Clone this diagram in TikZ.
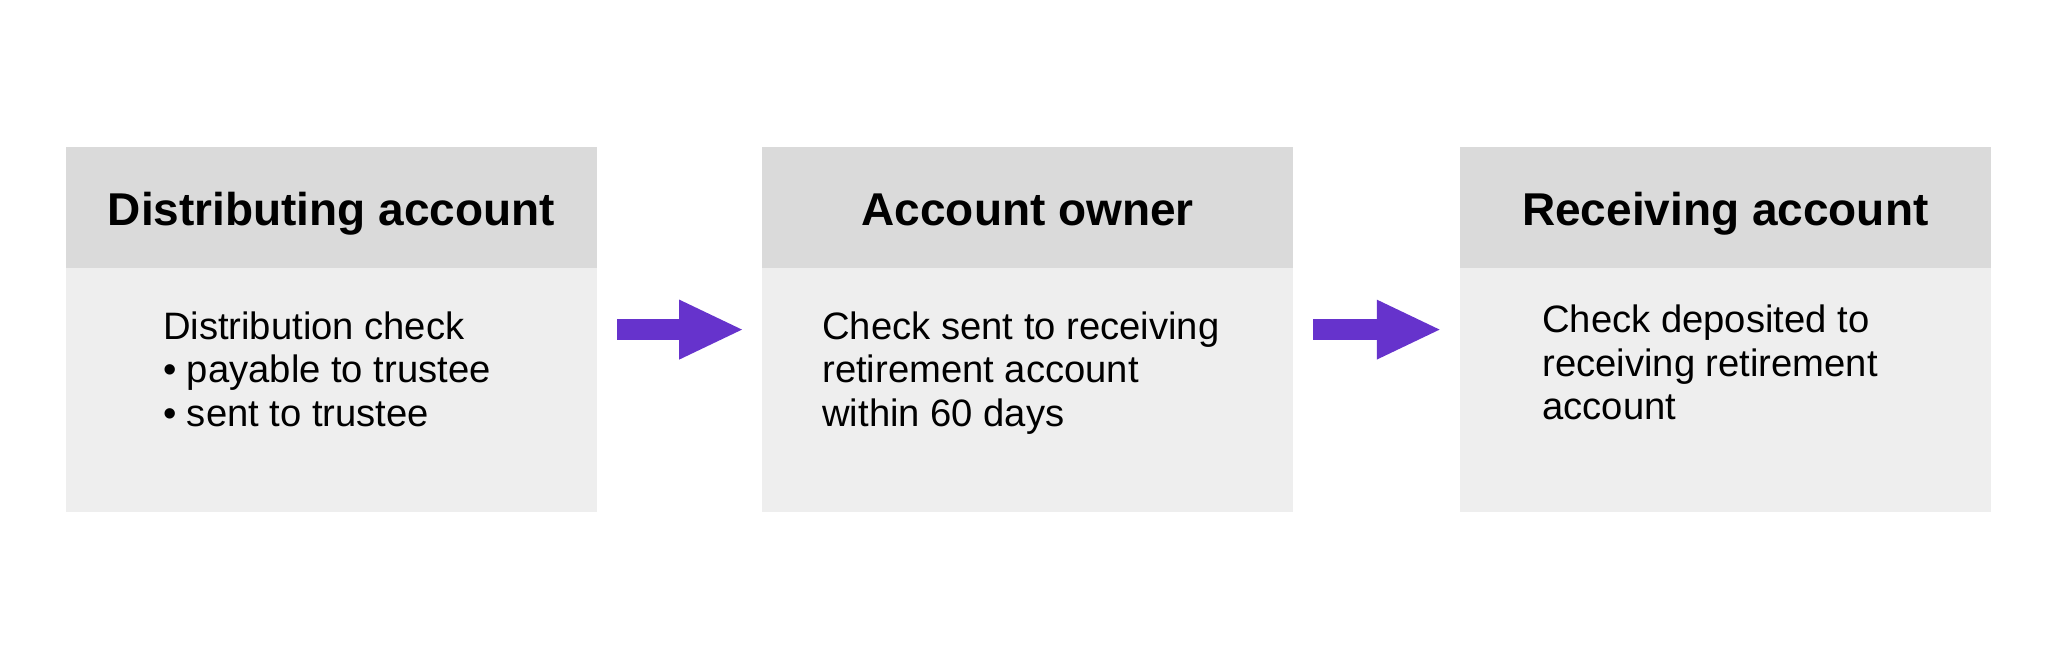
\documentclass[tikz,border=0pt]{standalone}
\usepackage{fontspec}
\setmainfont{Liberation Sans}
\usetikzlibrary{positioning}
\usetikzlibrary{arrows.meta}

\definecolor{hdrgray}{HTML}{DADADA}
\definecolor{bodygray}{HTML}{EEEEEE}
\definecolor{flowpurple}{HTML}{6633CC}

\begin{document}
\begin{tikzpicture}[x=1pt,y=1pt,
    stage/.style={fill=bodygray,minimum width=265.5pt,minimum height=182.2pt,inner sep=0pt,anchor=north west},
    header/.style={fill=hdrgray,minimum width=265.5pt,minimum height=60.3pt,inner sep=0pt,text height=20pt,text depth=2.2pt,anchor=north,font=\fontsize{23}{27}\selectfont\bfseries},
    detail/.style={anchor=north west,align=left,inner sep=0pt,font=\fontsize{19.1}{21.7}\selectfont},
    flow/.style={draw=flowpurple,line width=10.5pt,-{Triangle[length=31.4pt,width=30pt,line width=0pt]},shorten <=9.9pt,shorten >=9.9pt}]
    \useasboundingbox (0,0) rectangle (1028,-329.5);

    \node[stage] (distributing) at (32.8,-73.5) {};
    \node[stage] (owner) at (380.9,-73.5) {};
    \node[stage] (receiving) at (729.7,-73.5) {};

    \node[header] (distributinghdr) at (distributing.north) {Distributing account};
    \node[header] (ownerhdr) at (owner.north) {Account owner};
    \node[header] (receivinghdr) at (receiving.north) {Receiving account};

    \node[detail] (distributingtxt) at (81.3,-155.7) {Distribution check\\• payable to trustee\\• sent to trustee};
    \node[detail] (ownertxt) at (411,-155.7) {Check sent to receiving\\retirement account\\within 60 days};
    \node[detail] (receivingtxt) at (771,-152.4) {Check deposited to\\receiving retirement\\account};

    \draw[flow] (distributing) -- (owner);
    \draw[flow] (owner) -- (receiving);
\end{tikzpicture}
\end{document}
